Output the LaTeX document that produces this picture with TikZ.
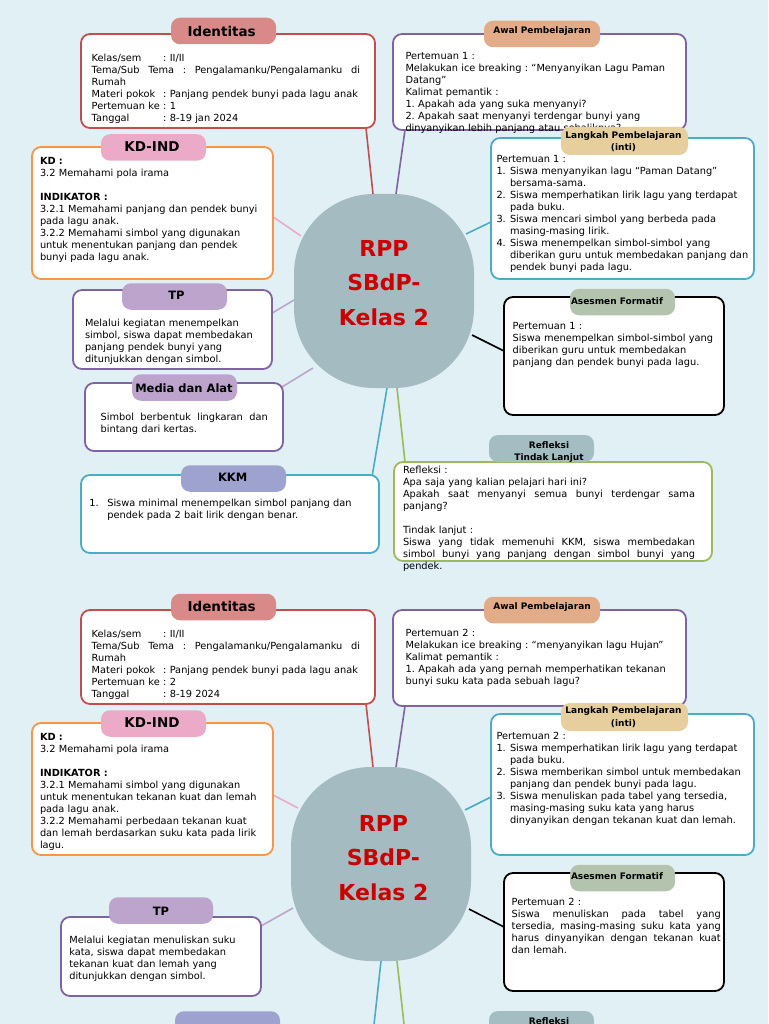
\documentclass[tikz,border=0pt]{standalone}
\usepackage{fontspec}
\setmainfont{DejaVu Sans}
\usetikzlibrary{calc,backgrounds}
\definecolor{bgc}{HTML}{E1F0F4}
\definecolor{cfill}{HTML}{A4BCC1}
\definecolor{ctext}{HTML}{CC0000}
\definecolor{cred}{HTML}{C0504D}
\definecolor{tred}{HTML}{D98A88}
\definecolor{cpur}{HTML}{8064A2}
\definecolor{tawal}{HTML}{E2AC88}
\definecolor{corg}{HTML}{F79646}
\definecolor{tkd}{HTML}{EBAAC8}
\definecolor{cteal}{HTML}{4BACC6}
\definecolor{tlang}{HTML}{E6CF9C}
\definecolor{ttp}{HTML}{BCA4CD}
\definecolor{tas}{HTML}{B4C3AE}
\definecolor{tkkm}{HTML}{9EA2CE}
\definecolor{cgrn}{HTML}{9BBB59}
\definecolor{trf}{HTML}{A4BDC3}
\newcommand\bodyf{\fontsize{9.8}{12}\selectfont\frenchspacing}
\newcommand\li[1]{\makebox[13.5pt][l]{#1}}
\newcommand\lc{\hspace*{13.5pt}}
\newcommand\js[2]{{\spaceskip=.32em plus 1fil\relax\makebox[#1pt][s]{#2}}}
\newcommand\lbl[1]{\makebox[71.5pt][l]{#1}}
\begin{document}
\begin{tikzpicture}[x=1pt,y=-1pt,
  cbox/.style={draw,line width=1.8pt,fill=white,rounded corners=9pt,inner sep=0pt,outer sep=0pt},
  tabx/.style={rounded corners=9pt,inner sep=0pt,outer sep=0pt,minimum height=26.5},
  bodytxt/.style={anchor=base west,inner sep=0pt,outer sep=0pt,align=left,text width=320pt,font=\bodyf},
  ttl/.style={inner sep=0pt,font=\bfseries\fontsize{13.5}{15}\selectfont},
  ttm/.style={inner sep=0pt,font=\bfseries\fontsize{11.5}{13}\selectfont},
  tts/.style={inner sep=0pt,align=center,font=\bfseries\fontsize{9}{12.5}\selectfont},
  cshape/.style={fill=cfill,rounded corners=80pt,minimum width=180,minimum height=194,inner sep=0pt,outer sep=0pt},
  ctxt/.style={inner sep=0pt,align=center,text=ctext,font=\bfseries\fontsize{22}{34.5}\selectfont},
  conn/.style={line width=1.6pt}]
\useasboundingbox (0,0) rectangle (768,1024);

% ================= TOP =================
% Identitas
\node[cbox,draw=cred,minimum width=294,minimum height=94] (idA) at (228,81) {};
\node[bodytxt] (idAt) at (91.7,61.5) {\lbl{Kelas/sem}: II/II\\
\js{268.3}{Tema/Sub Tema : Pengalamanku/Pengalamanku di}\\
Rumah\\
\lbl{Materi pokok}: Panjang pendek bunyi pada lagu anak\\
\lbl{Pertemuan ke}: 1\\
\lbl{Tanggal}: 8-19 jan 2024};
\node[tabx,fill=tred,minimum width=105] (idAtab) at (223.5,31) {};
\node[ttl] (idAl) at (221.7,31) {Identitas};

% Awal
\node[cbox,draw=cpur,minimum width=293,minimum height=96] (awA) at (539.5,82) {};
\node[bodytxt] (awAt) at (405.5,59.5) {Pertemuan 1 :\\
Melakukan ice breaking : “Menyanyikan Lagu Paman\\
Datang”\\
Kalimat pemantik :\\
1. Apakah ada yang suka menyanyi?\\
2. Apakah saat menyanyi terdengar bunyi yang\\
dinyanyikan lebih panjang atau sebaliknya?};
\node[tabx,fill=tawal,minimum width=116] (awAtab) at (542,34) {};
\node[tts] (awAl) at (542,31) {Awal Pembelajaran};

% KD-IND
\node[cbox,draw=corg,minimum width=241,minimum height=132] (kdA) at (152.5,213) {};
\node[bodytxt] (kdAt) at (40,165) {\textbf{KD :}\\
3.2 Memahami pola irama\\[12pt]
\textbf{INDIKATOR :}\\
3.2.1 Memahami panjang dan pendek bunyi\\
pada lagu anak.\\
3.2.2 Memahami simbol yang digunakan\\
untuk menentukan panjang dan pendek\\
bunyi pada lagu anak.};
\node[tabx,fill=tkd,minimum width=105] (kdAtab) at (153.5,147.5) {};
\node[ttl] (kdAl) at (152,147) {KD-IND};

% Langkah
\node[cbox,draw=cteal,minimum width=263,minimum height=141] (lgA) at (622.5,208.5) {};
\node[bodytxt] (lgAt) at (496.5,163) {Pertemuan 1 :\\
\li{1.}Siswa menyanyikan lagu “Paman Datang”\\
\lc bersama-sama.\\
\li{2.}Siswa memperhatikan lirik lagu yang terdapat\\
\lc pada buku.\\
\li{3.}Siswa mencari simbol yang berbeda pada\\
\lc masing-masing lirik.\\
\li{4.}Siswa menempelkan simbol-simbol yang\\
\lc diberikan guru untuk membedakan panjang dan\\
\lc pendek bunyi pada lagu.};
\node[tabx,fill=tlang,minimum width=127,minimum height=28] (lgAtab) at (624.5,141) {};
\node[tts] (lgAl) at (623.5,141.5) {Langkah Pembelajaran\\(inti)};

% TP
\node[cbox,draw=cpur,minimum width=199,minimum height=79] (tpA) at (172.5,329.5) {};
\node[bodytxt] (tpAt) at (85,326) {Melalui kegiatan menempelkan\\
simbol, siswa dapat membedakan\\
panjang pendek bunyi yang\\
ditunjukkan dengan simbol.};
\node[tabx,fill=ttp,minimum width=105] (tpAtab) at (174.5,296.5) {};
\node[ttm] (tpAl) at (176.5,295.5) {TP};

% Asesmen
\node[cbox,draw=black,minimum width=220,minimum height=118] (asA) at (614,356) {};
\node[bodytxt] (asAt) at (512.7,329) {Pertemuan 1 :\\
Siswa menempelkan simbol-simbol yang\\
diberikan guru untuk membedakan\\
panjang dan pendek bunyi pada lagu.};
\node[tabx,fill=tas,minimum width=105] (asAtab) at (622.5,302) {};
\node[tts] (asAl) at (617,300.7) {Asesmen Formatif};

% Media
\node[cbox,draw=cpur,minimum width=198,minimum height=68] (mdA) at (184,417) {};
\node[bodytxt] (mdAt) at (100.7,420.5) {\js{167}{Simbol berbentuk lingkaran dan}\\
bintang dari kertas.};
\node[tabx,fill=ttp,minimum width=105] (mdAtab) at (184.5,387.5) {};
\node[ttm] (mdAl) at (184,388) {Media dan Alat};

% KKM
\node[cbox,draw=cteal,minimum width=298,minimum height=78] (kkA) at (230,514) {};
\node[bodytxt] (kkAt) at (89.3,506.5) {\makebox[18pt][l]{1.}Siswa minimal menempelkan simbol panjang dan\\
\hspace*{18pt}pendek pada 2 bait lirik dengan benar.};
\node[tabx,fill=tkkm,minimum width=105] (kkAtab) at (233.5,478.5) {};
\node[ttm] (kkAl) at (232.7,477.5) {KKM};

% Refleksi
\node[cbox,draw=cgrn,minimum width=318,minimum height=99] (rfA) at (553,511.5) {};
\node[bodytxt] (rfAt) at (403,473.5) {Refleksi :\\
Apa saja yang kalian pelajari hari ini?\\
\js{292}{Apakah saat menyanyi semua bunyi terdengar sama}\\
panjang?\\[12pt]
Tindak lanjut :\\
\js{292}{Siswa yang tidak memenuhi KKM, siswa membedakan}\\
\js{292}{simbol bunyi yang panjang dengan simbol bunyi yang}\\
pendek.};
\node[tabx,fill=trf,minimum width=105,minimum height=27] (rfAtab) at (541.5,448.5) {};
\node[tts] (rfAl) at (549,452) {Refleksi\\Tindak Lanjut};

% Center top
\node[cshape] (c1) at (384,291) {};
\node[ctxt] (c1t) at (384,283) {RPP\\SBdP-\\Kelas 2};

% ================= BOTTOM =================
\node[cbox,draw=cred,minimum width=294,minimum height=94] (idB) at (228,657) {};
\node[bodytxt] (idBt) at (91.7,637) {\lbl{Kelas/sem}: II/II\\
\js{268.3}{Tema/Sub Tema : Pengalamanku/Pengalamanku di}\\
Rumah\\
\lbl{Materi pokok}: Panjang pendek bunyi pada lagu anak\\
\lbl{Pertemuan ke}: 2\\
\lbl{Tanggal}: 8-19 2024};
\node[tabx,fill=tred,minimum width=105] (idBtab) at (223.5,607) {};
\node[ttl] (idBl) at (221.7,606.5) {Identitas};

\node[cbox,draw=cpur,minimum width=293,minimum height=96] (awB) at (539.5,658) {};
\node[bodytxt] (awBt) at (405.7,636) {Pertemuan 2 :\\
Melakukan ice breaking : “menyanyikan lagu Hujan”\\
Kalimat pemantik :\\
1. Apakah ada yang pernah memperhatikan tekanan\\
bunyi suku kata pada sebuah lagu?};
\node[tabx,fill=tawal,minimum width=116] (awBtab) at (542,610) {};
\node[tts] (awBl) at (542,607) {Awal Pembelajaran};

\node[cbox,draw=corg,minimum width=241,minimum height=132] (kdB) at (152.5,789) {};
\node[bodytxt] (kdBt) at (40,740) {\textbf{KD :}\\
3.2 Memahami pola irama\\[12pt]
\textbf{INDIKATOR :}\\
3.2.1 Memahami simbol yang digunakan\\
untuk menentukan tekanan kuat dan lemah\\
pada lagu anak.\\
3.2.2 Memahami perbedaan tekanan kuat\\
dan lemah berdasarkan suku kata pada lirik\\
lagu.};
\node[tabx,fill=tkd,minimum width=105] (kdBtab) at (153.5,723.5) {};
\node[ttl] (kdBl) at (152,723) {KD-IND};

\node[cbox,draw=cteal,minimum width=263,minimum height=141] (lgB) at (622.5,784.5) {};
\node[bodytxt] (lgBt) at (496.5,739.5) {Pertemuan 2 :\\
\li{1.}Siswa memperhatikan lirik lagu yang terdapat\\
\lc pada buku.\\
\li{2.}Siswa memberikan simbol untuk membedakan\\
\lc panjang dan pendek bunyi pada lagu.\\
\li{3.}Siswa menuliskan pada tabel yang tersedia,\\
\lc masing-masing suku kata yang harus\\
\lc dinyanyikan dengan tekanan kuat dan lemah.};
\node[tabx,fill=tlang,minimum width=127,minimum height=28] (lgBtab) at (624.5,717) {};
\node[tts] (lgBl) at (623.5,717) {Langkah Pembelajaran\\(inti)};

\node[cbox,draw=cpur,minimum width=200,minimum height=79] (tpB) at (161,956.5) {};
\node[bodytxt] (tpBt) at (69.3,943) {Melalui kegiatan menuliskan suku\\
kata, siswa dapat membedakan\\
tekanan kuat dan lemah yang\\
ditunjukkan dengan simbol.};
\node[tabx,fill=ttp,minimum width=104] (tpBtab) at (161,910.5) {};
\node[ttm] (tpBl) at (161,911.5) {TP};

\node[cbox,draw=black,minimum width=220,minimum height=118] (asB) at (614,932) {};
\node[bodytxt] (asBt) at (511.7,905) {Pertemuan 2 :\\
\js{209}{Siswa menuliskan pada tabel yang}\\
\js{209}{tersedia, masing-masing suku kata yang}\\
\js{209}{harus dinyanyikan dengan tekanan kuat}\\
dan lemah.};
\node[tabx,fill=tas,minimum width=105] (asBtab) at (622.5,878) {};
\node[tts] (asBl) at (617,876.5) {Asesmen Formatif};

\node[tabx,fill=tkkm,minimum width=105] (kkBtab) at (227.5,1024.5) {};
\node[tabx,fill=trf,minimum width=105,minimum height=27] (rfBtab) at (541.5,1024.5) {};
\node[tts,anchor=base] (rfBl) at (549,1024) {Refleksi};

\node[cshape] (c2) at (381,864) {};
\node[ctxt] (c2t) at (383.5,858) {RPP\\SBdP-\\Kelas 2};

\coordinate (kkBend) at (373.2,1032);
\coordinate (rfBend) at (404.9,1032);

% ================= CONNECTORS (background) =================
\begin{scope}[on background layer]
\fill[bgc] (0,0) rectangle (768,1024);
\draw[conn,cred] ($(idA.south east)+(-9,0)$) -- ($(c1.north)+(-11,0)$);
\draw[conn,cpur] ($(awA.south west)+(12,0)$) -- ($(c1.north)+(12,0)$);
\draw[conn,tkd] ($(kdA.east)+(-10,-3)$) -- ($(c1.west)+(7,-55)$);
\draw[conn,cteal] ($(lgA.west)+(0,13.5)$) -- ($(c1.east)+(-8,-57)$);
\draw[conn,ttp] ($(tpA.east)+(-8,-11.5)$) -- ($(c1.west)+(0,9)$);
\draw[conn,black] ($(asA.west)+(0,-5)$) -- ($(c1.east)+(-2,44)$);
\draw[conn,ttp] ($(mdA.north east)+(-1,4)$) -- ($(c1.west)+(19,77)$);
\draw[conn,cteal] ($(kkA.north east)+(-7,2)$) -- ($(c1.south)+(3,0)$);
\draw[conn,cgrn] ($(c1.south)+(13,0)$) -- ($(rfA.north west)+(11,0)$);

\draw[conn,cred] ($(idB.south east)+(-9,0)$) -- ($(c2.north)+(-8,0)$);
\draw[conn,cpur] ($(awB.south west)+(12,0)$) -- ($(c2.north)+(15,0)$);
\draw[conn,tkd] ($(kdB.east)+(0,6)$) -- ($(c2.west)+(7,-56)$);
\draw[conn,cteal] ($(lgB.west)+(0,12.5)$) -- ($(c2.east)+(-6,-54)$);
\draw[conn,ttp] ($(tpB.north east)+(0,9)$) -- ($(c2.west)+(2,44)$);
\draw[conn,black] ($(asB.west)+(0,-5)$) -- ($(c2.east)+(-2,45)$);
\draw[conn,cteal] (c2.south) -- (kkBend);
\draw[conn,cgrn] ($(c2.south)+(16,0)$) -- (rfBend);
\end{scope}
\end{tikzpicture}
\end{document}
